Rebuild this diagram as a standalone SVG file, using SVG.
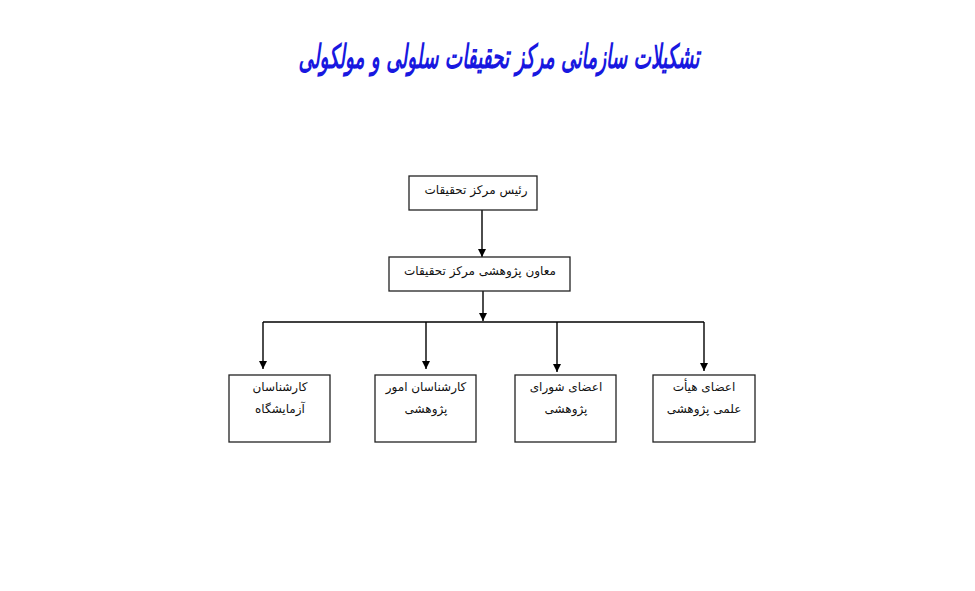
<svg xmlns="http://www.w3.org/2000/svg" width="975" height="591" viewBox="0 0 975 591">
<style>
.box{fill:#fff;stroke:#222;stroke-width:1.3}
.lbl{font-family:"DejaVu Sans","Noto Sans",sans-serif;font-size:12px;fill:#111;text-anchor:middle;direction:rtl}
.con{stroke:#000;stroke-width:1.4;fill:none}
.title{font-family:"DejaVu Sans",sans-serif;font-size:33px;font-weight:bold;font-style:italic;fill:#1818e0;text-anchor:middle;direction:rtl}
</style>
<defs>
<marker id="arr" viewBox="0 0 10 10" refX="10" refY="5" markerWidth="8" markerHeight="8" markerUnits="userSpaceOnUse" orient="auto">
<path d="M0,0 L10,5 L0,10 Z" fill="#000"/>
</marker>
</defs>
<rect width="975" height="591" fill="#fff"/>
<text class="title" transform="translate(499,68) scale(0.56,1)" x="0" y="0">تشکیلات سازمانی مرکز تحقیقات سلولی و مولکولی</text>
<g id="connectors">
<line class="con" x1="482" y1="210" x2="482" y2="257" marker-end="url(#arr)"/>
<line class="con" x1="483" y1="291" x2="483" y2="321" marker-end="url(#arr)"/>
<line class="con" x1="263" y1="322" x2="704" y2="322"/>
<line class="con" x1="263" y1="322" x2="263" y2="369" marker-end="url(#arr)"/>
<line class="con" x1="426" y1="322" x2="426" y2="369" marker-end="url(#arr)"/>
<line class="con" x1="557" y1="322" x2="557" y2="372" marker-end="url(#arr)"/>
<line class="con" x1="704" y1="322" x2="704" y2="371" marker-end="url(#arr)"/>
</g>
<g id="n-head">
<rect class="box" x="409" y="176" width="128" height="34"/>
<text class="lbl" x="476" y="194">رئیس مرکز تحقیقات</text>
</g>
<g id="n-deputy">
<rect class="box" x="389" y="257" width="181" height="34"/>
<text class="lbl" x="480" y="275">معاون پژوهشی مرکز تحقیقات</text>
</g>
<g id="n-lab">
<rect class="box" x="229" y="375" width="101" height="67"/>
<text class="lbl" x="280" y="391">کارشناسان</text>
<text class="lbl" x="280" y="413">آزمایشگاه</text>
</g>
<g id="n-research-experts">
<rect class="box" x="375" y="375" width="101" height="67"/>
<text class="lbl" x="426" y="391">کارشناسان امور</text>
<text class="lbl" x="426" y="413">پژوهشی</text>
</g>
<g id="n-council">
<rect class="box" x="515" y="375" width="101" height="67"/>
<text class="lbl" x="566" y="391">اعضای شورای</text>
<text class="lbl" x="566" y="413">پژوهشی</text>
</g>
<g id="n-faculty">
<rect class="box" x="653" y="375" width="102" height="67"/>
<text class="lbl" x="704" y="391">اعضای هیأت</text>
<text class="lbl" x="704" y="413">علمی پژوهشی</text>
</g>
</svg>
